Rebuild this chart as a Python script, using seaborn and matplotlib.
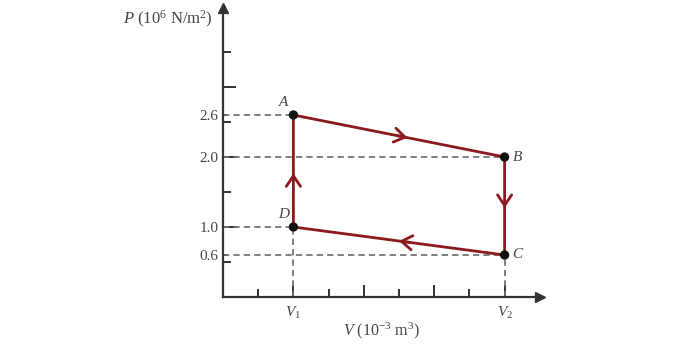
import numpy as np
import pandas as pd
import matplotlib
matplotlib.use("Agg")
import matplotlib.pyplot as plt
import seaborn as sns

# state points of the cycle
states = ["A", "B", "C", "D"]
volume = [2, 8, 8, 2]          # in tick units, V1 = 2, V2 = 8
pressure = [2.6, 2.0, 0.6, 1.0]

ytick_vals = [0.6, 1.0, 2.0, 2.6, 3.0]
ytick_labels = ["0.6", "1.0", "2.0", "2.6", ""]
xtick_vals = [2, 4, 6, 8]
xtick_labels = ["$V_1$", "", "", "$V_2$"]

sns.set_style("ticks")
plt.rcParams["font.family"] = ["Liberation Serif", "DejaVu Serif"]
plt.rcParams["mathtext.fontset"] = "custom"
plt.rcParams["mathtext.rm"] = "Liberation Serif"
plt.rcParams["mathtext.it"] = "Liberation Serif:italic"

red = "#8b1a1e"
axis_col = "#333333"
text_col = "#454545"
dash_col = "#6e6e6e"

fig = plt.figure(figsize=(7, 3.59), dpi=100)
ax = fig.add_axes([223 / 700, 62 / 359, 9.0 * 35.2 / 700, 4.13 * 70 / 359])
ax.set_xlim(0, 9.0)
ax.set_ylim(0, 4.13)

# close the cycle A -> B -> C -> D -> A
cyc = pd.DataFrame({
    "V": volume + volume[:1],
    "P": pressure + pressure[:1],
    "order": range(5),
})

# dashed guides
dash = (0, (3.6, 2.4))
for v, p in zip(volume, pressure):
    ax.plot([0, v], [p, p], ls=dash, color=dash_col, lw=1.25, zorder=1)
for v, p in [(volume[3], pressure[3]), (volume[2], pressure[2])]:
    ax.plot([v, v], [0, p], ls=dash, color=dash_col, lw=1.25, zorder=1)

sns.lineplot(data=cyc, x="V", y="P", sort=False, estimator=None,
             color=red, lw=2, ax=ax, zorder=3)
sns.scatterplot(x=volume, y=pressure, color="#111111", s=45,
                edgecolor="none", ax=ax, zorder=4)

# direction chevrons
def chevron(x0, y0, x1, y1):
    ax.annotate("", xy=(x1, y1), xytext=(x0, y0),
                arrowprops=dict(arrowstyle="->,head_length=0.45,head_width=0.3",
                                color=red, lw=2, mutation_scale=17,
                                shrinkA=0, shrinkB=0),
                zorder=5)

def along(i, j, t):
    x = volume[i] + (volume[j] - volume[i]) * t
    y = pressure[i] + (pressure[j] - pressure[i]) * t
    return x, y

for (i, j, t) in [(0, 1, 0.54), (1, 2, 0.52), (2, 3, 0.5), (3, 0, 0.48)]:
    xa, ya = along(i, j, t - 0.05)
    xb, yb = along(i, j, t)
    chevron(xa, ya, xb, yb)

# state labels
offsets = {"A": (-10, 13), "B": (13, 0), "C": (13, 0), "D": (-10, 12)}
for s, v, p in zip(states, volume, pressure):
    dx, dy = offsets[s]
    ax.annotate(s, (v, p), xytext=(dx, dy), textcoords="offset pixels",
                ha="center", va="center", fontsize=11, style="italic",
                color=text_col)

# axes
sns.despine(ax=ax)
for sp in ["left", "bottom"]:
    ax.spines[sp].set_color(axis_col)
    ax.spines[sp].set_linewidth(1.6)
ax.plot(1, 0, ">", color=axis_col, ms=7, transform=ax.get_yaxis_transform(),
        clip_on=False)
ax.plot(0, 1, "^", color=axis_col, ms=7, transform=ax.get_xaxis_transform(),
        clip_on=False)

ax.set_yticks(ytick_vals, ytick_labels)
ax.set_yticks([0.5, 1.5, 2.5, 3.5], minor=True)
ax.set_xticks(xtick_vals, xtick_labels)
ax.set_xticks([1, 3, 5, 7], minor=True)
ax.tick_params(which="major", direction="in", length=9, width=1.4,
               color=axis_col, labelcolor=text_col, labelsize=11, pad=3)
ax.tick_params(which="minor", direction="in", length=5.5, width=1.4,
               color=axis_col)
ax.tick_params(axis="x", pad=6)
for k, t in enumerate(ax.yaxis.get_major_ticks()):
    if ytick_vals[k] in (0.6, 2.6):
        t.tick1line.set_markersize(3)

ax.set_xlabel("$V$ (10$^{-3}$ m$^3$)", fontsize=11.5, color=text_col,
              labelpad=-1)
ax.set_ylabel("")
ax.text(-0.28, 3.96, "$P$ (10$^6$ N/m$^2$)", ha="right", va="center",
        fontsize=12, color=text_col, clip_on=False)

fig.savefig("out.png", dpi=100, facecolor="white")
